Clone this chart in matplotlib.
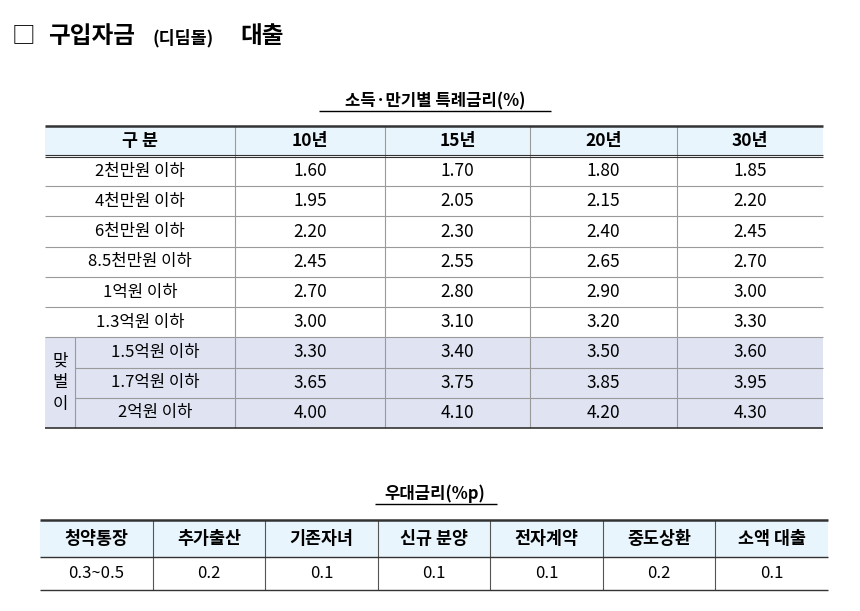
import matplotlib
matplotlib.use("Agg")
import matplotlib.pyplot as plt
from matplotlib.patches import Rectangle

plt.rcParams["font.family"] = "Noto Sans CJK KR"

TITLE = "구입자금"
TITLE_SUB = "(디딤돌)"
TITLE_END = "대출"
T1_TITLE = "소득·만기별 특례금리(%)"
T1_HEAD = ["구 분", "10년", "15년", "20년", "30년"]
T1_ROWS = ["2천만원 이하", "4천만원 이하", "6천만원 이하", "8.5천만원 이하", "1억원 이하",
           "1.3억원 이하", "1.5억원 이하", "1.7억원 이하", "2억원 이하"]
T1_VALS = [["1.60", "1.70", "1.80", "1.85"],
           ["1.95", "2.05", "2.15", "2.20"],
           ["2.20", "2.30", "2.40", "2.45"],
           ["2.45", "2.55", "2.65", "2.70"],
           ["2.70", "2.80", "2.90", "3.00"],
           ["3.00", "3.10", "3.20", "3.30"],
           ["3.30", "3.40", "3.50", "3.60"],
           ["3.65", "3.75", "3.85", "3.95"],
           ["4.00", "4.10", "4.20", "4.30"]]
DUAL_LABEL = "맞\n벌\n이"
N_DUAL = 3
T2_TITLE = "우대금리(%p)"
T2_HEAD = ["청약통장", "추가출산", "기존자녀", "신규 분양", "전자계약", "중도상환", "소액 대출"]
T2_VALS = ["0.3~0.5", "0.2", "0.1", "0.1", "0.1", "0.2", "0.1"]

HEAD_BG = "#e9f5fc"
DUAL_BG = "#dfe3f2"
DARK = "#333333"
GRID = "#9a9a9a"

fig = plt.figure(figsize=(8.6, 6.11), dpi=100)
ax = fig.add_axes([0, 0, 1, 1])
ax.set_xlim(0, 860)
ax.set_ylim(611, 0)
ax.axis("off")

# page title
ax.text(12, 36, "□", fontsize=17, va="center", ha="left")
ax.text(48, 36, TITLE, fontsize=17, fontweight="bold", va="center", ha="left")
ax.text(153, 38, TITLE_SUB, fontsize=12.5, fontweight="bold", va="center", ha="left")
ax.text(240, 36, TITLE_END, fontsize=17, fontweight="bold", va="center", ha="left")


def hline(x0, x1, y, lw=0.8, c=GRID):
    ax.plot([x0, x1], [y, y], color=c, lw=lw, solid_capstyle="butt")


def vline(x, y0, y1, lw=0.8, c=GRID):
    ax.plot([x, x], [y0, y1], color=c, lw=lw, solid_capstyle="butt")


# ---- table 1
ax.text(435, 101, T1_TITLE, fontsize=12, fontweight="bold", ha="center", va="center")
hline(319, 551, 111, lw=1.0, c="black")
t1x = [45, 235, 385, 530, 677, 823]
hy0, hy1 = 126, 156
rh = (428 - hy1) / len(T1_ROWS)
ax.add_patch(Rectangle((t1x[0], hy0), t1x[-1] - t1x[0], hy1 - hy0, color=HEAD_BG, lw=0))
dual_top = hy1 + rh * (len(T1_ROWS) - N_DUAL)
ax.add_patch(Rectangle((t1x[0], dual_top), t1x[-1] - t1x[0], 428 - dual_top, color=DUAL_BG, lw=0))
for j, h in enumerate(T1_HEAD):
    ax.text((t1x[j] + t1x[j + 1]) / 2, (hy0 + hy1) / 2, h, fontsize=12.5,
            fontweight="bold", ha="center", va="center")
for i, (lab, vals) in enumerate(zip(T1_ROWS, T1_VALS)):
    yc = hy1 + rh * (i + 0.5)
    xl = t1x[0] if i < len(T1_ROWS) - N_DUAL else 75
    ax.text((xl + t1x[1]) / 2, yc, lab, fontsize=12, ha="center", va="center")
    for j, v in enumerate(vals):
        ax.text((t1x[j + 1] + t1x[j + 2]) / 2, yc, v, fontsize=12.5, ha="center", va="center")
    if i > 0:
        hline(xl if i >= len(T1_ROWS) - N_DUAL + 1 else t1x[0], t1x[-1], hy1 + rh * i)
ax.text(60, (dual_top + 428) / 2, DUAL_LABEL, fontsize=12, ha="center", va="center",
        linespacing=1.35)
vline(75, dual_top, 428)
for x in t1x[1:-1]:
    vline(x, hy0, 428)
hline(t1x[0], t1x[-1], hy0, lw=1.8, c=DARK)
hline(t1x[0], t1x[-1], hy1 - 1.2, lw=0.8, c=DARK)
hline(t1x[0], t1x[-1], hy1 + 1.2, lw=0.8, c=DARK)
hline(t1x[0], t1x[-1], 428, lw=1.2, c=DARK)

# ---- table 2
ax.text(435, 494, T2_TITLE, fontsize=12, fontweight="bold", ha="center", va="center")
hline(375, 497, 504, lw=1.0, c="black")
t2x0, t2x1 = 40, 828
cw = (t2x1 - t2x0) / len(T2_HEAD)
r0, r1, r2 = 520, 557, 590
ax.add_patch(Rectangle((t2x0, r0), t2x1 - t2x0, r1 - r0, color=HEAD_BG, lw=0))
for j, (h, v) in enumerate(zip(T2_HEAD, T2_VALS)):
    xc = t2x0 + cw * (j + 0.5)
    ax.text(xc, (r0 + r1) / 2, h, fontsize=12.5, fontweight="bold", ha="center", va="center")
    ax.text(xc, (r1 + r2) / 2, v, fontsize=12, ha="center", va="center")
    if j > 0:
        vline(t2x0 + cw * j, r0, r2, c="#555555")
hline(t2x0, t2x1, r0, lw=1.8, c=DARK)
hline(t2x0, t2x1, r1, lw=1.0, c=DARK)
hline(t2x0, t2x1, r2, lw=1.0, c=DARK)

fig.savefig("out.png", dpi=100)
